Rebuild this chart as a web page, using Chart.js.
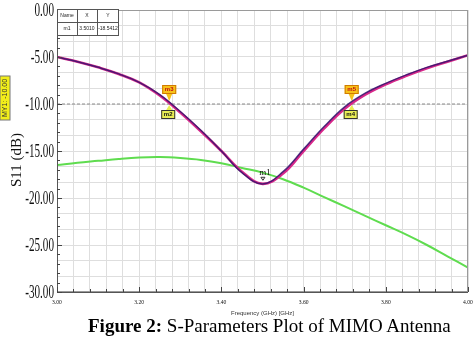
<!DOCTYPE html>
<html>
<head>
<meta charset="utf-8">
<script src="https://cdn.jsdelivr.net/npm/chart.js@4/dist/chart.umd.min.js"></script>
<style>
  html, body { margin: 0; padding: 0; background: #fff; }
  #wrap { position: relative; width: 474px; height: 344px; }
  #caption {
    position: absolute; left: 88px; top: 315px; text-align: left;
    font-family: "Liberation Serif", serif; font-size: 19px; color: #000; white-space: nowrap;
  }
</style>
</head>
<body>
<div id="wrap">
  <canvas id="sparam" width="474" height="344"></canvas>
  <div id="caption"><b>Figure 2:</b> S-Parameters Plot of MIMO Antenna</div>
</div>
<script>
// frequency sweep (GHz)
const freq = [3.00, 3.05, 3.10, 3.15, 3.20, 3.25, 3.30, 3.35, 3.40, 3.45, 3.50,
              3.55, 3.60, 3.65, 3.70, 3.75, 3.80, 3.85, 3.90, 3.95, 4.00];
// S11 of port 1 and port 2 (dB)
const s11Red  = [-5.0, -5.5, -6.1, -6.8, -7.7, -9.1, -10.9, -12.9, -15.0, -17.2, -18.5,
                 -17.4, -15.0, -12.6, -10.5, -9.0, -7.9, -7.0, -6.2, -5.5, -4.8];
const s11Blue = [-5.0, -5.5, -6.1, -6.8, -7.7, -9.0, -10.8, -12.8, -15.0, -17.3, -18.5,
                 -17.2, -14.8, -12.4, -10.3, -8.85, -7.8, -6.9, -6.1, -5.45, -4.8];
// coupling curve (dB)
const s21Green = [-16.5, -16.25, -16.05, -15.85, -15.7, -15.65, -15.75, -15.95, -16.3, -16.8, -17.3,
                  -18.0, -18.9, -19.9, -20.9, -21.9, -22.9, -23.9, -25.0, -26.2, -27.4];

const refLevel = -10;
const yTickVals = [0, -5, -10, -15, -20, -25, -30];
const yTickText = ['0.00', '-5.00', '-10.00', '-15.00', '-20.00', '-25.00', '-30.00'];
const xTickVals = [3.0, 3.2, 3.4, 3.6, 3.8, 4.0];
const xTickText = ['3.00', '3.20', '3.40', '3.60', '3.80', '4.00'];

// markers: m1 at the minimum, plus the -10 dB crossings of both curves
const m1 = { name: 'm1', x: 3.5010, y: -18.5412 };
const crossX = [3.273, 3.717];
const crossTop = ['m3', 'm5'];
const crossBot = ['m2', 'm4'];

const pts = (vals) => freq.map((f, i) => ({ x: f, y: vals[i] }));

const decor = {
  id: 'decor',
  afterDatasetsDraw(chart) {
    const { ctx, chartArea: a, scales: { x, y } } = chart;
    ctx.save();

    // frame
    ctx.strokeStyle = '#9a9a9a';
    ctx.lineWidth = 1;
    ctx.strokeRect(a.left + 0.5, a.top + 0.5, a.right - a.left - 1, a.bottom - a.top - 1);
    ctx.strokeStyle = '#555';
    ctx.beginPath();
    ctx.moveTo(a.left + 0.5, a.top); ctx.lineTo(a.left + 0.5, a.bottom + 0.5);
    ctx.lineTo(a.right, a.bottom + 0.5);
    ctx.stroke();

    // minor ticks on left and bottom axes
    ctx.strokeStyle = '#444';
    ctx.beginPath();
    for (let v = 0; v >= -30; v--) {
      const py = Math.round(y.getPixelForValue(v)) + 0.5;
      const len = v % 5 === 0 ? 5 : 3;
      ctx.moveTo(a.left, py); ctx.lineTo(a.left + len, py);
    }
    for (let i = 0; i <= 25; i++) {
      const px = Math.round(x.getPixelForValue(3 + i * 0.04)) + 0.5;
      ctx.moveTo(px, a.bottom); ctx.lineTo(px, a.bottom - (i % 5 === 0 ? 5 : 3));
    }
    ctx.stroke();

    // y tick labels (narrow serif)
    ctx.fillStyle = '#111';
    ctx.textAlign = 'right';
    ctx.textBaseline = 'middle';
    ctx.font = '18px "Liberation Serif", serif';
    yTickVals.forEach((v, i) => {
      ctx.save();
      ctx.translate(a.left - 3, y.getPixelForValue(v) + 1);
      ctx.scale(0.62, 1);
      ctx.fillText(yTickText[i], 0, 0);
      ctx.restore();
    });

    // x tick labels
    ctx.textAlign = 'center';
    ctx.font = '7px "Liberation Serif", serif';
    xTickVals.forEach((v, i) => {
      ctx.save();
      ctx.translate(x.getPixelForValue(v), a.bottom + 10);
      ctx.scale(0.8, 1);
      ctx.fillText(xTickText[i], 0, 0);
      ctx.restore();
    });
    ctx.font = '6px "Liberation Sans", sans-serif';
    ctx.fillStyle = '#333';
    ctx.fillText('Frequency (GHz) [GHz]', (a.left + a.right) / 2, a.bottom + 21);

    // y title
    ctx.save();
    ctx.translate(17, 160);
    ctx.rotate(-Math.PI / 2);
    ctx.fillStyle = '#111';
    ctx.font = '15px "Liberation Serif", serif';
    ctx.fillText('S11 (dB)', 0, 0);
    ctx.restore();

    // reference level tag
    ctx.save();
    ctx.translate(5, 98);
    ctx.rotate(-Math.PI / 2);
    ctx.fillStyle = '#f2ee1a';
    ctx.fillRect(-22, -5, 44, 10);
    ctx.strokeStyle = '#777';
    ctx.strokeRect(-22, -5, 44, 10);
    ctx.fillStyle = '#333';
    ctx.font = '7px "Liberation Sans", sans-serif';
    ctx.fillText('MY1: -10.00', 0, 0.5);
    ctx.restore();

    // marker table
    const tx = a.left, ty = a.top - 1, tw = 61, th = 26;
    ctx.fillStyle = '#fff';
    ctx.fillRect(tx, ty, tw, th);
    ctx.strokeStyle = '#555';
    ctx.strokeRect(tx + 0.5, ty + 0.5, tw, th);
    ctx.beginPath();
    ctx.moveTo(tx, ty + 13.5); ctx.lineTo(tx + tw, ty + 13.5);
    ctx.moveTo(tx + 20.5, ty); ctx.lineTo(tx + 20.5, ty + th);
    ctx.moveTo(tx + 40.5, ty); ctx.lineTo(tx + 40.5, ty + th);
    ctx.stroke();
    ctx.fillStyle = '#222';
    ctx.font = '5px "Liberation Sans", sans-serif';
    ctx.fillText('Name', tx + 10, ty + 7);
    ctx.fillText('X', tx + 30, ty + 7);
    ctx.fillText('Y', tx + 51, ty + 7);
    ctx.fillText(m1.name, tx + 10, ty + 20);
    ctx.fillText(m1.x.toFixed(4), tx + 30, ty + 20);
    ctx.fillText(m1.y.toFixed(4), tx + 51, ty + 20);

    // m1 marker
    const mx = x.getPixelForValue(m1.x), my = y.getPixelForValue(m1.y);
    ctx.fillStyle = '#111';
    ctx.font = '9px "Liberation Serif", serif';
    ctx.fillText(m1.name, mx + 2, my - 12);
    ctx.beginPath();
    ctx.moveTo(mx - 2, my - 7); ctx.lineTo(mx + 2, my - 7); ctx.lineTo(mx, my - 4);
    ctx.closePath();
    ctx.strokeStyle = '#333';
    ctx.stroke();

    // -10 dB crossing markers
    crossX.forEach((cx, i) => {
      const px = x.getPixelForValue(cx), py = y.getPixelForValue(refLevel);
      // upper tag
      ctx.fillStyle = '#f7c21a';
      ctx.strokeStyle = '#d07a00';
      ctx.fillRect(px - 7, py - 19, 14, 9);
      ctx.strokeRect(px - 7 + 0.5, py - 19 + 0.5, 13, 8);
      ctx.beginPath();
      ctx.moveTo(px - 3, py - 10); ctx.lineTo(px + 3, py - 10); ctx.lineTo(px, py - 3);
      ctx.closePath(); ctx.fill();
      ctx.fillStyle = '#c01010';
      ctx.font = 'bold 6px "Liberation Sans", sans-serif';
      ctx.fillText(crossTop[i], px, py - 14.5);
      // lower tag
      ctx.fillStyle = '#e9ee55';
      ctx.strokeStyle = '#333';
      ctx.beginPath();
      ctx.moveTo(px - 3, py + 6); ctx.lineTo(px + 3, py + 6); ctx.lineTo(px, py + 1);
      ctx.closePath(); ctx.fill();
      ctx.fillRect(px - 8, py + 6, 14, 9);
      ctx.strokeRect(px - 8 + 0.5, py + 6 + 0.5, 13, 8);
      ctx.fillStyle = '#111';
      ctx.fillText(crossBot[i], px - 1, py + 10.5);
    });

    ctx.restore();
  }
};

// dataset order: first entry ends up on top
new Chart(document.getElementById('sparam'), {
  type: 'line',
  data: {
    datasets: [
      { data: pts(s11Blue), borderColor: 'rgba(50,20,110,0.85)', borderWidth: 1.5, pointRadius: 0, tension: 0.4 },
      { data: pts(s11Red), borderColor: '#d8288a', borderWidth: 2.6, pointRadius: 0, tension: 0.4 },
      { data: pts(s21Green), borderColor: '#5fdc4f', borderWidth: 2, pointRadius: 0, tension: 0.4 },
      { data: [{ x: 3, y: refLevel }, { x: 4, y: refLevel }], borderColor: '#8a8a8a',
        borderWidth: 1, borderDash: [3, 2], pointRadius: 0, tension: 0 }
    ]
  },
  options: {
    responsive: false,
    animation: false,
    events: [],
    layout: { padding: { top: 10, right: 6, left: 0, bottom: 0 } },
    plugins: { legend: { display: false }, tooltip: { enabled: false } },
    scales: {
      x: {
        type: 'linear', min: 3, max: 4,
        afterBuildTicks: (s) => { s.ticks = Array.from({ length: 26 }, (_, i) => ({ value: 3 + i * 0.04 })); },
        afterFit: (s) => { s.height = 52; },
        ticks: { display: false },
        grid: { color: '#dedede', drawTicks: false },
        border: { display: false }
      },
      y: {
        min: -30, max: 0,
        afterBuildTicks: (s) => { s.ticks = Array.from({ length: 19 }, (_, i) => ({ value: -i * 5 / 3 })); },
        afterFit: (s) => { s.width = 57; },
        ticks: { display: false },
        grid: { color: '#dedede', drawTicks: false },
        border: { display: false }
      }
    }
  },
  plugins: [decor]
});
</script>
</body>
</html>
